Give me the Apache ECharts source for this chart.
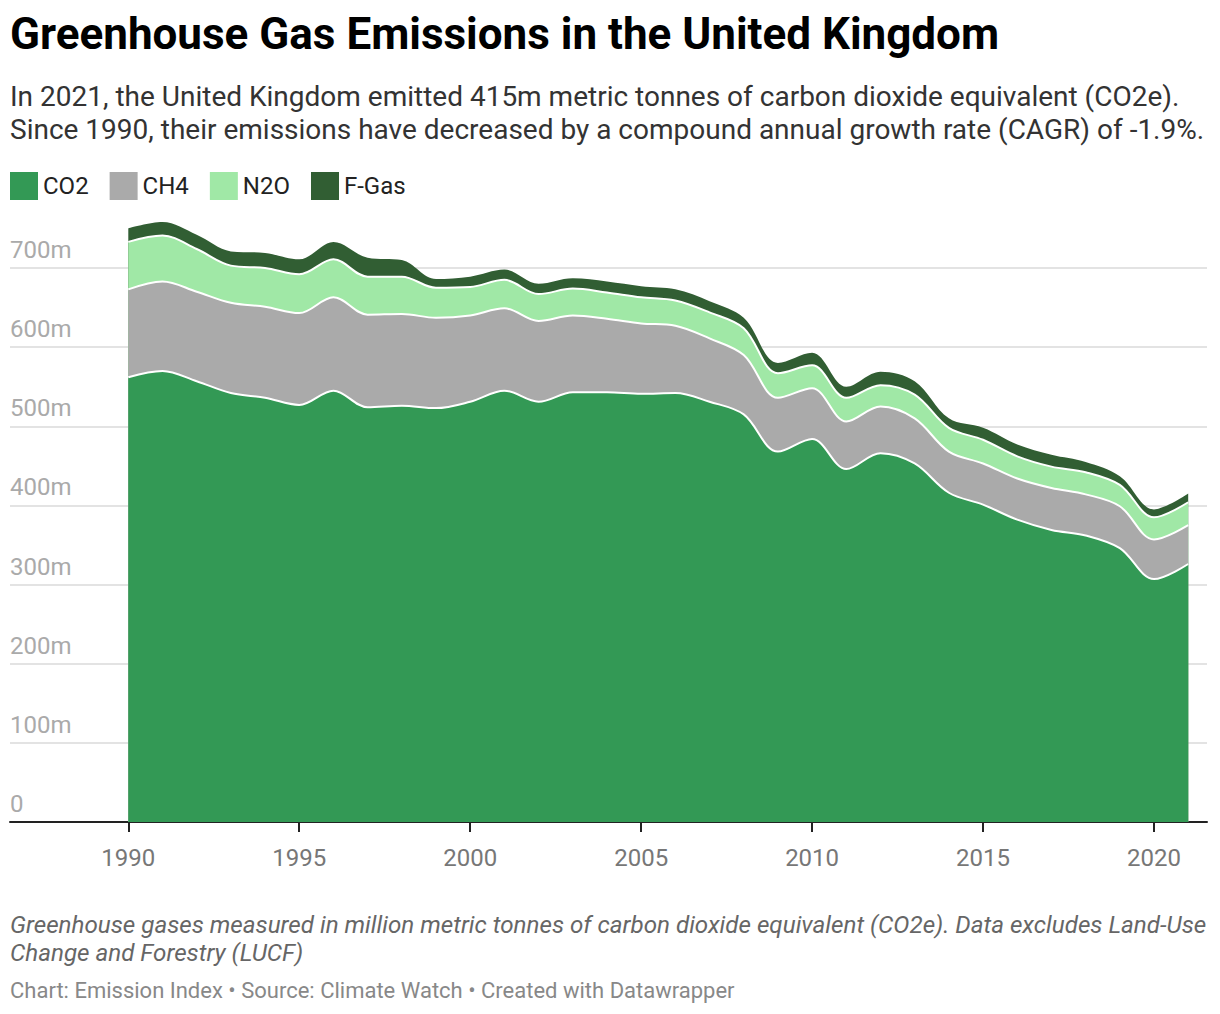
<!DOCTYPE html>
<html>
<head>
<meta charset="utf-8">
<script src="https://cdn.jsdelivr.net/npm/echarts@6/dist/echarts.min.js"></script>
<style>
html,body{margin:0;padding:0;background:#fff;}
#chart{width:1220px;height:1014px;}
</style>
</head>
<body>
<div id="chart"></div>
<script>
var years = [1990,1991,1992,1993,1994,1995,1996,1997,1998,1999,2000,2001,2002,2003,2004,2005,2006,2007,2008,2009,2010,2011,2012,2013,2014,2015,2016,2017,2018,2019,2020,2021];
var co2  = [562,570,557,542,536,527,545,524,526,523,531,545,531,543,543,541,542,531,515,468,484,446,466,453,416,401,382,369,362,346,307,326];
var ch4  = [111,113,113,114,115,116,118,117,116,114,109,104,102,97,93,89,85,80,75,68,64,60,59,57,52,52,52,53,52,53,50,49];
var n2o  = [60,58,54,47,49,49,48,48,47,38,36,36,34,34,33,33,32,33,34,31,29,30,27,30,30,30,28,27,28,27,28,29];
var fgas = [17,17,18,18,19,19,22,24,21,11,13,13,13,13,14,14,14,14,13,13,16,14,17,17,12,15,15,15,13,11,10,11];
var xTicks = [1990,1995,2000,2005,2010,2015,2020];
var yTicks = [0,100,200,300,400,500,600,700];
var seriesNames = ['CO2','CH4','N2O','F-Gas'];
var colors = ['#339955','#aaaaaa','#a0e8a6','#315e33'];

var titleText = 'Greenhouse Gas Emissions in the United Kingdom';
var subtitleText = 'In 2021, the United Kingdom emitted 415m metric tonnes of carbon dioxide equivalent (CO2e).\nSince 1990, their emissions have decreased by a compound annual growth rate (CAGR) of -1.9%.';
var noteText = 'Greenhouse gases measured in million metric tonnes of carbon dioxide equivalent (CO2e). Data excludes Land-Use\nChange and Forestry (LUCF)';
var sourceText = 'Chart: Emission Index \u2022 Source: Climate Watch \u2022 Created with Datawrapper';

var values = [co2, ch4, n2o, fgas];
var FONT = 'Roboto, "Noto Sans", sans-serif';

// running totals so each band sits on the ones below it
var tops = [];
values.forEach(function (arr, k) {
  tops.push(arr.map(function (v, i) { return v + (k > 0 ? tops[k - 1][i] : 0); }));
});

var chart = echarts.init(document.getElementById('chart'), null, {renderer: 'svg'});

var series = seriesNames.map(function (name, k) {
  return {
    name: name,
    type: 'line',
    smooth: 0.35,
    symbol: 'none',
    clip: false,
    z: 10 - k,
    data: years.map(function (y, i) { return [y, tops[k][i]]; }),
    itemStyle: {color: colors[k]},
    lineStyle: k === 3 ? {width: 0, color: colors[k]} : {color: '#ffffff', width: 2},
    areaStyle: {color: colors[k], opacity: 1},
    emphasis: {disabled: true}
  };
});

chart.setOption({
  animation: false,
  title: [
    {text: titleText, left: 10, top: 12, padding: 0,
     textStyle: {fontFamily: FONT, fontWeight: 'bold', fontSize: 44, color: '#000'}},
    {text: subtitleText, left: 10, top: 80, padding: 0,
     textStyle: {fontFamily: FONT, fontWeight: 'normal', fontSize: 28, lineHeight: 33, color: '#333'}},
    {text: noteText, left: 10, top: 911, padding: 0,
     textStyle: {fontFamily: FONT, fontStyle: 'italic', fontWeight: 'normal', fontSize: 24.2, lineHeight: 28, color: '#666'}},
    {text: sourceText, left: 10, top: 979, padding: 0,
     textStyle: {fontFamily: FONT, fontWeight: 'normal', fontSize: 22, lineHeight: 22, color: '#888'}}
  ],
  legend: {
    left: 10, top: 172, padding: 0,
    icon: 'rect', itemWidth: 28, itemHeight: 28, itemGap: 21,
    data: seriesNames,
    itemStyle: {borderWidth: 0},
    textStyle: {fontFamily: FONT, fontSize: 24, color: '#222', width: 52}
  },
  grid: {left: 10, right: 13, top: 268, bottom: 192, containLabel: false},
  xAxis: {
    type: 'value', min: 1986.54, max: 2021.55,
    splitLine: {show: false},
    axisLine: {show: true, lineStyle: {color: '#222', width: 2}},
    axisTick: {show: true, customValues: xTicks, length: 10, lineStyle: {color: '#222', width: 2}},
    axisLabel: {customValues: xTicks, color: '#777', fontFamily: FONT, fontSize: 24, margin: 24,
      formatter: function (v) { return String(v); }}
  },
  yAxis: {
    type: 'value', min: 0, max: 700, interval: 100,
    axisLine: {show: false}, axisTick: {show: false},
    splitLine: {show: true, lineStyle: {color: '#e3e3e3', width: 2}},
    axisLabel: {inside: true, margin: 0, align: 'left', verticalAlign: 'bottom',
      padding: [0, 0, 6, 0], color: '#aaa', fontFamily: FONT, fontSize: 24,
      customValues: yTicks,
      formatter: function (v) { return v === 0 ? '0' : v + 'm'; }}
  },
  series: series
});
</script>
</body>
</html>
